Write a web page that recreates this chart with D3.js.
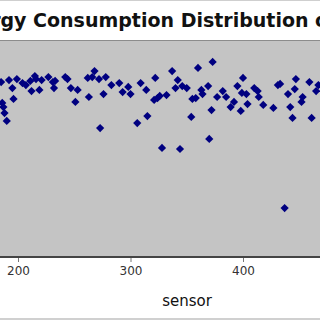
<!DOCTYPE html>
<html>
<head>
  <script src="https://cdnjs.cloudflare.com/ajax/libs/d3/7.8.5/d3.min.js"></script>
  <style>
    body { margin: 0; background: #fff; }
    svg { display: block; }
  </style>
</head>
<body>
  <svg></svg>
  <script>
    // chart data (sensor id, consumed energy)
    var title = "Energy Consumption Distribution of Sensors";
    var xLabel = "sensor";
    var xTicks = [200, 300, 400];
    var sensors = [185, 192, 199, 195, 196, 186, 187, 188, 190, 204, 207, 211, 212, 215, 216, 219, 221, 227, 231, 232,
      233, 242, 244, 247, 251, 253, 262, 263, 268, 266, 272, 276, 278, 273, 283, 290, 293, 298, 300, 309,
      314, 322, 321, 324, 326, 332, 337, 342, 340, 346, 350, 355, 358, 364, 363, 369, 360, 373, 372, 354,
      315, 306, 328, 344, 370, 377, 382, 385, 389, 392, 395, 400, 399, 403, 398, 404, 410, 413, 414, 418,
      427, 431, 433, 440, 442, 444, 446, 447, 452, 453, 459, 461, 465, 467, 437];
    var energy = [81.3, 82.2, 82.7, 78.5, 73.4, 71.5, 69.6, 66.8, 63.1, 80.8, 79.9, 81.8, 77.1, 84.1, 82.7, 77.6, 82.2, 83.6, 81.3, 78.5,
      81.8, 83.6, 82.7, 78.5, 72.0, 77.6, 83.2, 74.3, 86.4, 83.6, 82.7, 75.7, 83.6, 59.8, 79.9, 80.8, 76.6, 79.0, 75.7, 80.8,
      77.6, 83.2, 72.9, 73.8, 74.8, 75.2, 86.4, 82.2, 78.5, 79.4, 78.5, 73.4, 73.8, 75.7, 77.6, 79.4, 87.9, 90.7, 68.2, 65.0,
      65.4, 62.1, 50.5, 50.0, 54.7, 74.3, 77.1, 74.3, 69.6, 72.0, 79.4, 83.2, 76.2, 75.7, 67.8, 71.0, 78.5, 77.1, 74.3, 70.6,
      69.2, 79.9, 80.4, 75.7, 69.6, 64.5, 78.0, 82.7, 72.0, 74.3, 81.3, 64.5, 77.1, 79.9, 22.4];

    var W = 320, H = 320;
    var svg = d3.select("svg").attr("width", W).attr("height", H);

    var plot = { top: 41, bottom: 256 };

    var x = d3.scaleLinear().domain([200, 400]).range([18, 243]);
    var y = d3.scaleLinear().domain([0, 100]).range([plot.bottom, 42]);

    // title band
    svg.append("rect").attr("x", 0).attr("y", 0).attr("width", W).attr("height", H).attr("fill", "#fff");
    svg.append("rect").attr("x", 0).attr("y", 0).attr("width", W).attr("height", 1).attr("fill", "#cfcfcf");

    var t = svg.append("text")
      .attr("y", 27)
      .attr("font-family", "DejaVu Sans")
      .attr("font-weight", "bold")
      .attr("font-size", 19)
      .attr("fill", "#111")
      .text(title);
    // shift so that the visible part starts like the reference crop
    var tmp = svg.append("text").attr("font-family", "DejaVu Sans").attr("font-weight", "bold")
      .attr("font-size", 19).text("Ener");
    var off = tmp.node().getComputedTextLength();
    tmp.remove();
    t.attr("x", -off + 0.5);

    // plot area
    svg.append("rect").attr("x", 0).attr("y", plot.top)
      .attr("width", W).attr("height", plot.bottom - plot.top)
      .attr("fill", "#c4c4c4");
    svg.append("line").attr("x1", 0).attr("x2", W).attr("y1", 40.5).attr("y2", 40.5)
      .attr("stroke", "#8c8c8c").attr("stroke-width", 1);

    svg.append("clipPath").attr("id", "clip").append("rect")
      .attr("x", 0).attr("y", plot.top).attr("width", W).attr("height", plot.bottom - plot.top);

    var diamond = d3.symbol().type(d3.symbolSquare).size(34);
    svg.append("g").attr("clip-path", "url(#clip)")
      .selectAll("path")
      .data(sensors)
      .enter().append("path")
      .attr("d", diamond)
      .attr("transform", function(d, i) {
        return "translate(" + x(d) + "," + y(energy[i]) + ") rotate(45)";
      })
      .attr("fill", "#000080");

    // x axis
    var axis = d3.axisBottom(x).tickValues(xTicks).tickSize(5).tickPadding(4);
    var ax = svg.append("g").attr("transform", "translate(0," + (plot.bottom + 1) + ")").call(axis);
    ax.select(".domain").remove();
    ax.selectAll(".tick line").attr("stroke", "#777");
    ax.selectAll(".tick text")
      .attr("font-family", "DejaVu Sans")
      .attr("font-size", 12)
      .attr("fill", "#333");
    svg.append("line").attr("x1", 0).attr("x2", W).attr("y1", plot.bottom + 1).attr("y2", plot.bottom + 1)
      .attr("stroke", "#444").attr("stroke-width", 2);

    svg.append("text")
      .attr("x", 187).attr("y", 306)
      .attr("text-anchor", "middle")
      .attr("font-family", "DejaVu Sans")
      .attr("font-size", 15)
      .attr("fill", "#111")
      .text(xLabel);

    svg.append("rect").attr("x", 0).attr("y", 318).attr("width", W).attr("height", 2).attr("fill", "#d0d0d0");
  </script>
</body>
</html>
